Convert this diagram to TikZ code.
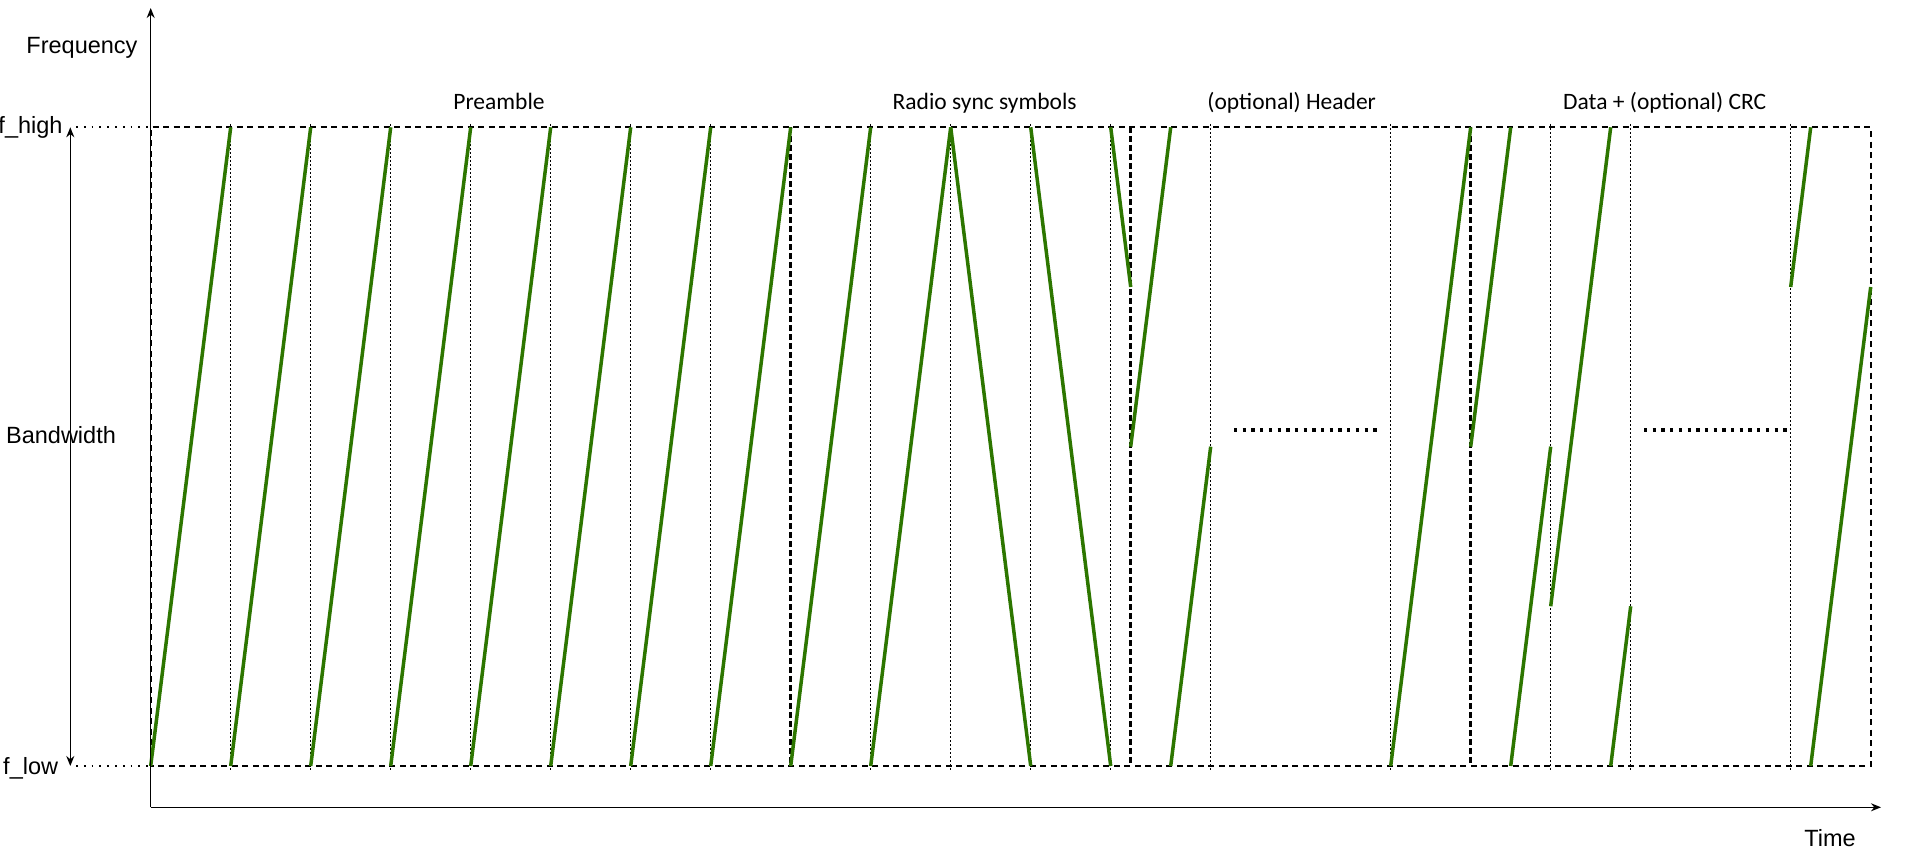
\documentclass[tikz,border=0pt]{standalone}
\usepackage{fontspec}
\setmainfont{Liberation Sans}
\newfontfamily\carlito{Carlito}
\usetikzlibrary{arrows.meta}
\definecolor{chirpgreen}{HTML}{2D7600}
\begin{document}
\begin{tikzpicture}[x=1pt,y=-1pt,
 axisline/.style={line width=1.4pt, -{Stealth[length=10pt,width=8pt]}},
 bwline/.style={line width=1.4pt, {Stealth[length=10pt,width=8pt]}-{Stealth[length=10pt,width=8pt]}},
 chirp/.style={draw=chirpgreen, line width=3.5pt},
 boxline/.style={line width=2pt, dash pattern=on 6pt off 4.5pt},
 secline/.style={line width=3pt, dash pattern=on 6pt off 3pt},
 symline/.style={line width=1.3pt, dash pattern=on 2pt off 2pt},
 gapdots/.style={line width=3.5pt, dash pattern=on 3.3pt off 5.4pt},
 guide/.style={line width=1.8pt, dash pattern=on 1.8pt off 6pt},
 axlabel/.style={font=\fontsize{23.5}{28}\selectfont, inner sep=0pt},
 seclabel/.style={font=\carlito\fontsize{23.5}{28}\selectfont, inner sep=0pt, anchor=base},
]
\useasboundingbox (0,0) rectangle (1920,853);

% frame of the packet
\coordinate (BL) at (150.7,766);
\coordinate (TR) at (1870.7,127.3);
\draw[boxline] (BL) rectangle (TR);

% symbol boundaries
\foreach \x in {230.7,310.7,390.7,470.7,550.7,630.7,710.7,870.7,950.7,1030.7,1110.7,1210.7,1390.7,1550.7,1630.7,1790.7}
  \draw[symline] (\x,124) -- (\x,770);

% section boundaries
\foreach \x in {790.7,1130.7,1470.7}
  \draw[secline] (\x,127.3) -- (\x,766);

% preamble + sync upchirps
\foreach \k in {0,...,9}
  \draw[chirp] ({150.7+80*\k},766) -- ({230.7+80*\k},127.3);

% downchirps
\draw[chirp] (950.7,127.3) -- (1030.7,766);
\draw[chirp] (1030.7,127.3) -- (1110.7,766);
\draw[chirp] (1110.7,127.3) -- (1130.7,287);

% header
\draw[chirp] (1130.7,446.65) -- (1170.7,127.3);
\draw[chirp] (1170.7,766) -- (1210.7,446.65);
\draw[chirp] (1390.7,766) -- (1470.7,127.3);
\draw[gapdots] (1234,430) -- (1378,430);

% data
\draw[chirp] (1470.7,446.65) -- (1510.7,127.3);
\draw[chirp] (1510.7,766) -- (1550.7,446.65);
\draw[chirp] (1550.7,606.3) -- (1610.7,127.3);
\draw[chirp] (1610.7,766) -- (1630.7,606.3);
\draw[chirp] (1790.7,287) -- (1810.7,127.3);
\draw[chirp] (1810.7,766) -- (1870.7,287);
\draw[gapdots] (1644,430) -- (1788,430);

% axes
\coordinate (O) at (150.7,807.3);
\coordinate (ytip) at (150.7,8);
\coordinate (xtip) at (1881,807.3);
\draw[axisline] (O) -- (ytip);
\draw[axisline] (O) -- (xtip);

% bandwidth
\coordinate (bwt) at (70.3,127.3);
\coordinate (bwb) at (70.3,766);
\draw[bwline] (bwb) -- (bwt);
\coordinate (gt) at (76,127.3);
\coordinate (gb) at (76,766);
\draw[guide] (gt) -- (150.7,127.3);
\draw[guide] (gb) -- (150.7,766);

% labels
\node[axlabel, anchor=base] (freq) at (82,53.3) {Frequency};
\node[axlabel, anchor=base east] (fhigh) at (62.7,133.3) {f\_high};
\node[axlabel, anchor=base east] (flow) at (58.3,774) {f\_low};
\node[axlabel, anchor=center] (bw) at (61,435) {Bandwidth};
\node[axlabel, anchor=base] (time) at (1830,846.7) {Time};

\node[seclabel] (pre) at (499,109.3) {Preamble};
\node[seclabel] (sync) at (984.7,109.3) {Radio sync symbols};
\node[seclabel] (hdr) at (1291.7,109.3) {(optional) Header};
\node[seclabel] (data) at (1664.7,109.3) {Data + (optional) CRC};
\end{tikzpicture}
\end{document}
